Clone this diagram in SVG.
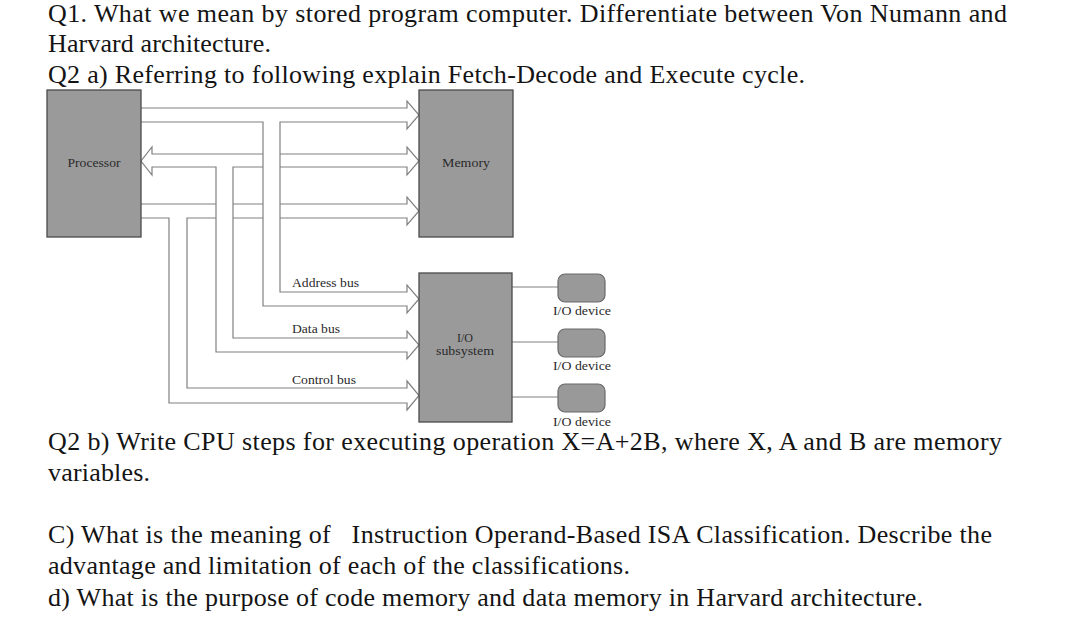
<svg xmlns="http://www.w3.org/2000/svg" width="1080" height="638" viewBox="0 0 1080 638">
<style>
.q{font-family:"Liberation Serif","Times New Roman",serif;font-size:26px;fill:#141414;white-space:pre}
.l{font-family:"Liberation Serif","Times New Roman",serif;font-size:12px;fill:#2a2a2a}
.box{fill:#9a9a9a;stroke:#4a4a4a;stroke-width:1.3}
.dev{fill:#999;stroke:#6a6a6a;stroke-width:1.2}
.bus{fill:#fff;stroke:#808080;stroke-width:1.2;stroke-linejoin:miter}
.wire{fill:none;stroke:#808080;stroke-width:1.2}
</style>
<rect width="1080" height="638" fill="#fff"/>
<g id="questions">
<text class="q" x="48" y="22" textLength="959" lengthAdjust="spacing">Q1. What we mean by stored program computer. Differentiate between Von Numann and</text>
<text class="q" x="48" y="52" textLength="223" lengthAdjust="spacing">Harvard architecture.</text>
<text class="q" x="48" y="83" textLength="757" lengthAdjust="spacing">Q2 a) Referring to following explain Fetch-Decode and Execute cycle.</text>
<text class="q" x="48" y="450" textLength="954" lengthAdjust="spacing">Q2 b) Write CPU steps for executing operation X=A+2B, where X, A and B are memory</text>
<text class="q" x="48" y="481" textLength="102" lengthAdjust="spacing">variables.</text>
<text class="q" x="48" y="543" textLength="944" lengthAdjust="spacing">C) What is the meaning of   Instruction Operand-Based ISA Classification. Describe the</text>
<text class="q" x="48" y="574" textLength="582" lengthAdjust="spacing">advantage and limitation of each of the classifications.</text>
<text class="q" x="48" y="606" textLength="875" lengthAdjust="spacing">d) What is the purpose of code memory and data memory in Harvard architecture.</text>
</g>
<g id="connectors">
<path id="control-bus" class="bus" d="M141,204 H407 V197 L419,211 L407,225 V218 H187 V388 H407 V381 L419,395.5 L407,410 V403 H169 V218 H141"/>
<path id="data-bus" class="bus" d="M152,154 V147 L141,161 L152,175 V167 H216 V352 H407 V359 L419,345 L407,331 V338 H233 V167 H407 V175 L419,161 L407,147 V154 Z"/>
<path id="address-bus" class="bus" d="M141,108 H407 V101 L419,115 L407,129 V122 H280 V292 H407 V285 L419,299 L407,313 V306 H263 V122 H141"/>
<path class="wire" d="M512,287 H558 M512,342 H558 M512,397 H558"/>
<text class="l" x="292" y="287" textLength="67" lengthAdjust="spacingAndGlyphs">Address bus</text>
<text class="l" x="292" y="333" textLength="48" lengthAdjust="spacingAndGlyphs">Data bus</text>
<text class="l" x="292" y="384" textLength="64" lengthAdjust="spacingAndGlyphs">Control bus</text>
</g>
<g id="processor">
<rect class="box" x="47" y="90" width="94" height="147"/>
<text class="l" x="94" y="167" text-anchor="middle" textLength="53" lengthAdjust="spacingAndGlyphs">Processor</text>
</g>
<g id="memory">
<rect class="box" x="419" y="90" width="94" height="147"/>
<text class="l" x="466" y="167" text-anchor="middle" textLength="48" lengthAdjust="spacingAndGlyphs">Memory</text>
</g>
<g id="io-subsystem">
<rect class="box" x="419" y="273" width="93" height="149"/>
<text class="l" x="465" y="342" text-anchor="middle">I/O</text>
<text class="l" x="465" y="355" text-anchor="middle" textLength="58" lengthAdjust="spacingAndGlyphs">subsystem</text>
</g>
<g id="io-device-1">
<rect class="dev" x="558" y="274" width="47" height="28" rx="7"/>
<text class="l" x="582" y="315" text-anchor="middle" textLength="58" lengthAdjust="spacingAndGlyphs">I/O device</text>
</g>
<g id="io-device-2">
<rect class="dev" x="558" y="329" width="47" height="28" rx="7"/>
<text class="l" x="582" y="370" text-anchor="middle" textLength="58" lengthAdjust="spacingAndGlyphs">I/O device</text>
</g>
<g id="io-device-3">
<rect class="dev" x="558" y="384" width="47" height="28" rx="7"/>
<text class="l" x="582" y="426" text-anchor="middle" textLength="58" lengthAdjust="spacingAndGlyphs">I/O device</text>
</g>
</svg>
